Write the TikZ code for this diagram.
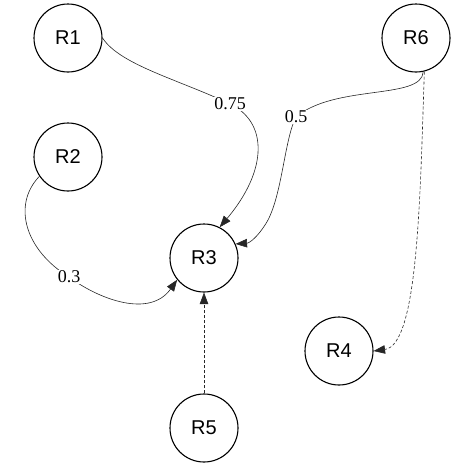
\documentclass[tikz,border=0pt]{standalone}
\usepackage{fontspec}
\setmainfont{Liberation Serif}
\newfontfamily\nodefont{Liberation Sans}
\usetikzlibrary{arrows.meta}
\tikzset{
  rnode/.style={circle,draw,line width=1.1pt,minimum size=68pt,inner sep=0pt,font=\nodefont\fontsize{20}{24}\selectfont},
  edge/.style={draw=black!85,line width=0.6pt,-{Triangle[length=11.5pt,width=8.5pt]}},
  dedge/.style={edge,dash pattern=on 3pt off 2pt},
  elab/.style={fill=white,inner sep=1pt,font=\fontsize{18}{21}\selectfont}
}
\begin{document}
\begin{tikzpicture}[x=1pt,y=-1pt]
\useasboundingbox (0,0) rectangle (474,466);
\node[rnode] (R1) at (68,38) {R1};
\node[rnode] (R6) at (416,38) {R6};
\node[rnode] (R2) at (68,157) {R2};
\node[rnode] (R3) at (204,258) {R3};
\node[rnode] (R4) at (339,351) {R4};
\node[rnode] (R5) at (204,428) {R5};
% R1 -> R3
\draw[edge] (R1.east) .. controls (120,65) and (180,80) .. (230,104)
  .. controls (268,122) and (268,170) .. (R3.63);
\node[elab] (l75) at (230,104) {0.75};
% R6 -> R3
\draw[edge] (R6.-78) .. controls (422,100) and (335,84) .. (296,117)
  .. controls (284,140) and (282,200) .. (265,225)
  .. controls (258,236) and (250,243) .. (R3.24);
\node[elab] (l5) at (296,117) {0.5};
% R2 -> R3
\draw[edge] (R2.214) .. controls (12,205) and (25,250) .. (69,277)
  .. controls (100,300) and (150,318) .. (R3.219);
\node[elab] (l3) at (69,277) {0.3};
% R5 -> R3
\draw[dedge] (R5) -- (R3);
% R6 -> R4
\draw[dedge] (R6.-76) .. controls (420,200) and (418,345) .. (R4.east);
\end{tikzpicture}
\end{document}
